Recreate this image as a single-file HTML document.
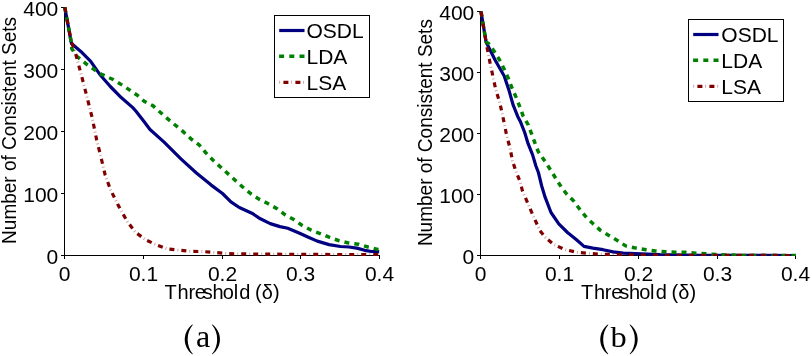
<!DOCTYPE html>
<html><head><meta charset="utf-8"><style>
html,body{margin:0;padding:0;background:#fff;width:812px;height:356px;overflow:hidden}
svg{display:block;will-change:transform}
.t{font-family:"Liberation Sans",sans-serif;font-size:20px;fill:#000}
.s{font-family:"Liberation Serif",serif;font-size:32px;fill:#000}
</style></head><body>
<svg width="812" height="356" viewBox="0 0 812 356">
<clipPath id="c0"><rect x="61.5" y="0" width="323.0" height="256.0"/></clipPath>
<path d="M64.5,7.5 V255.5 H380.0" fill="none" stroke="#000" stroke-width="1"/>
<path d="M61.0,255.5 H65.0" stroke="#000" stroke-width="1"/>
<text x="58.3" y="263.5" text-anchor="end" class="t" style="font-size:21px">0</text>
<path d="M61.0,193.5 H65.0" stroke="#000" stroke-width="1"/>
<text x="58.3" y="201.5" text-anchor="end" class="t" style="font-size:21px">100</text>
<path d="M61.0,131.5 H65.0" stroke="#000" stroke-width="1"/>
<text x="58.3" y="139.5" text-anchor="end" class="t" style="font-size:21px">200</text>
<path d="M61.0,69.5 H65.0" stroke="#000" stroke-width="1"/>
<text x="58.3" y="77.5" text-anchor="end" class="t" style="font-size:21px">300</text>
<path d="M61.0,7.5 H65.0" stroke="#000" stroke-width="1"/>
<text x="58.3" y="15.5" text-anchor="end" class="t" style="font-size:21px">400</text>
<path d="M64.5,255.5 V259.0" stroke="#000" stroke-width="1"/>
<text x="64.5" y="280.6" text-anchor="middle" class="t" style="font-size:21px">0</text>
<path d="M143.5,255.5 V259.0" stroke="#000" stroke-width="1"/>
<text x="143.5" y="280.6" text-anchor="middle" class="t" style="font-size:21px">0.1</text>
<path d="M222.5,255.5 V259.0" stroke="#000" stroke-width="1"/>
<text x="222.5" y="280.6" text-anchor="middle" class="t" style="font-size:21px">0.2</text>
<path d="M300.5,255.5 V259.0" stroke="#000" stroke-width="1"/>
<text x="300.5" y="280.6" text-anchor="middle" class="t" style="font-size:21px">0.3</text>
<path d="M379.5,255.5 V259.0" stroke="#000" stroke-width="1"/>
<text x="379.5" y="280.6" text-anchor="middle" class="t" style="font-size:21px">0.4</text>
<g clip-path="url(#c0)" fill="none" stroke-linejoin="round">
<polyline points="64.8,7.4 71.5,43.6 80.8,51.4 90.7,61.3 100.5,75.3 110.3,86.5 121.5,97.8 132.8,107.6 136.0,111.2 144.0,121.6 150.0,129.5 164.1,142.1 180.9,158.9 196.4,173.0 211.2,185.1 222.5,193.5 230.9,201.9 239.3,207.5 251.9,213.2 260.4,218.8 270.2,223.6 280.0,226.6 287.8,228.3 299.6,233.2 308.4,237.2 317.3,241.1 329.1,244.6 340.5,246.5 349.0,247.0 356.9,248.1 364.7,250.3 371.5,251.5 379.2,251.7" stroke="#000080" stroke-width="3.2"/>
<polyline points="64.8,7.4 71.5,43.6 71.8,48.7 76.9,56.3 86.5,64.1 100.5,73.9 113.1,79.5 124.4,86.5 137.0,95.0 144.4,101.4 152.8,105.6 166.9,118.2 182.3,130.9 191.3,139.1 199.2,144.9 205.6,152.5 213.2,160.4 228.1,173.9 242.1,186.5 250.5,193.5 258.9,199.1 267.4,203.3 277.0,208.7 284.8,214.6 293.7,219.5 301.6,225.0 311.4,230.3 320.2,233.6 329.1,237.2 338.9,240.7 348.5,243.0 358.5,244.2 368.1,247.0 377.6,249.4 379.2,249.6" stroke="#008000" stroke-width="3.5" stroke-dasharray="5 5"/>
<polyline points="64.8,7.4 71.5,42.5 74.3,49.0 77.7,61.3 83.6,83.7 87.9,100.6 92.1,117.4 96.6,139.6 100.8,156.5 105.1,174.7 110.7,190.2 117.7,204.2 121.7,211.8 127.6,221.9 135.2,232.0 145.3,239.6 156.2,244.7 167.2,248.9 179.0,250.2 191.6,251.4 203.4,251.6 216.1,252.6 227.9,253.6 238.0,253.9 300.0,254.4 379.2,254.6" stroke="#800000" stroke-width="3.2" stroke-dasharray="5 7"/>
<polyline points="64.8,7.4 71.5,42.5 74.3,49.0 77.7,61.3 83.6,83.7 87.9,100.6 92.1,117.4 96.6,139.6 100.8,156.5 105.1,174.7 110.7,190.2 117.7,204.2 121.7,211.8 127.6,221.9 135.2,232.0 145.3,239.6 156.2,244.7 167.2,248.9 179.0,250.2 191.6,251.4 203.4,251.6 216.1,252.6 227.9,253.6 238.0,253.9 300.0,254.4 379.2,254.6" stroke="#800000" stroke-width="3" stroke-opacity="0.35" stroke-dasharray="1 11" stroke-dashoffset="-8"/>
</g>
<rect x="274.5" y="15.5" width="95" height="82" fill="#fff" stroke="#000" stroke-width="1"/>
<path d="M279.2,30.5 H304.5" stroke="#000080" stroke-width="3.2"/>
<path d="M279.1,56.2 H304.5" stroke="#008000" stroke-width="3.5" stroke-dasharray="5 5.2"/>
<path d="M283.4,82.3 H304.5" stroke="#800000" stroke-width="3.2" stroke-dasharray="5 7"/>
<path d="M279.1,82.3 H304.5" stroke="#800000" stroke-width="3" stroke-opacity="0.35" stroke-dasharray="1 11" stroke-dashoffset="0"/>
<text x="306.5" y="38.0" class="t" style="font-size:21px">OSDL</text>
<text x="306.5" y="64.0" class="t" style="font-size:21px">LDA</text>
<text x="306.5" y="90.0" class="t" style="font-size:21px">LSA</text>
<text x="164.50 177.60 188.40 194.75 202.85 212.60 222.76 233.70 239.26 250.40 255.06 261.86 272.98" y="298.6" class="t">Threshold (δ)</text>
<text transform="translate(15.6,130.4) rotate(-90)" x="0" y="0" text-anchor="middle" class="t" textLength="227" lengthAdjust="spacingAndGlyphs">Number of Consistent Sets</text>
<clipPath id="c416"><rect x="477.5" y="0" width="323.0" height="256.0"/></clipPath>
<path d="M480.5,11.5 V255.5 H796.0" fill="none" stroke="#000" stroke-width="1"/>
<path d="M477.0,255.5 H481.0" stroke="#000" stroke-width="1"/>
<text x="474.3" y="263.5" text-anchor="end" class="t" style="font-size:21px">0</text>
<path d="M477.0,194.5 H481.0" stroke="#000" stroke-width="1"/>
<text x="474.3" y="202.5" text-anchor="end" class="t" style="font-size:21px">100</text>
<path d="M477.0,133.5 H481.0" stroke="#000" stroke-width="1"/>
<text x="474.3" y="141.5" text-anchor="end" class="t" style="font-size:21px">200</text>
<path d="M477.0,72.5 H481.0" stroke="#000" stroke-width="1"/>
<text x="474.3" y="80.5" text-anchor="end" class="t" style="font-size:21px">300</text>
<path d="M477.0,11.5 H481.0" stroke="#000" stroke-width="1"/>
<text x="474.3" y="19.5" text-anchor="end" class="t" style="font-size:21px">400</text>
<path d="M480.5,255.5 V259.0" stroke="#000" stroke-width="1"/>
<text x="480.5" y="280.6" text-anchor="middle" class="t" style="font-size:21px">0</text>
<path d="M559.5,255.5 V259.0" stroke="#000" stroke-width="1"/>
<text x="559.5" y="280.6" text-anchor="middle" class="t" style="font-size:21px">0.1</text>
<path d="M638.5,255.5 V259.0" stroke="#000" stroke-width="1"/>
<text x="638.5" y="280.6" text-anchor="middle" class="t" style="font-size:21px">0.2</text>
<path d="M717.5,255.5 V259.0" stroke="#000" stroke-width="1"/>
<text x="717.5" y="280.6" text-anchor="middle" class="t" style="font-size:21px">0.3</text>
<path d="M795.5,255.5 V259.0" stroke="#000" stroke-width="1"/>
<text x="795.5" y="280.6" text-anchor="middle" class="t" style="font-size:21px">0.4</text>
<g clip-path="url(#c416)" fill="none" stroke-linejoin="round">
<polyline points="481.0,11.6 486.1,42.0 495.2,60.2 504.2,76.0 508.7,89.4 513.2,105.2 517.7,116.4 520.2,121.2 524.7,132.5 528.1,143.7 532.6,154.9 536.0,166.2 538.4,172.5 541.7,186.0 545.1,197.2 551.0,212.5 558.8,223.8 567.5,232.5 576.2,239.5 584.0,246.4 592.9,248.1 603.0,249.7 613.1,251.9 623.2,253.1 635.0,253.6 660.0,254.6 700.0,255.3 796.0,255.5" stroke="#000080" stroke-width="3.2"/>
<polyline points="481.0,11.6 486.1,42.0 488.5,43.4 494.1,51.2 499.7,60.2 504.2,69.2 508.7,79.3 512.1,88.3 516.6,98.4 520.0,107.4 523.3,116.4 528.1,124.6 531.5,133.6 534.8,142.6 538.2,151.6 545.1,161.5 550.7,170.2 556.3,179.2 562.0,188.2 566.6,194.0 574.2,201.6 580.6,210.5 586.5,217.5 592.9,223.6 600.5,230.4 608.9,235.4 617.3,240.5 625.7,245.9 635.9,248.1 646.0,249.7 655.3,250.9 665.9,251.8 675.8,252.3 685.6,252.3 696.0,253.2 705.8,253.7 716.2,254.6 740.0,255.4 796.0,255.5" stroke="#008000" stroke-width="3.5" stroke-dasharray="5 5"/>
<polyline points="481.0,11.6 486.1,42.0 487.8,51.5 490.3,64.2 495.6,88.9 499.8,102.9 502.2,113.4 504.5,124.6 506.7,135.8 510.1,148.2 512.4,160.6 515.7,170.7 520.2,181.9 522.3,190.3 528.7,205.4 533.9,217.4 540.0,230.8 545.1,237.1 554.0,244.7 565.4,249.7 576.8,252.3 589.4,253.5 603.0,254.3 650.0,255.2 796.0,255.5" stroke="#800000" stroke-width="3.2" stroke-dasharray="5 7"/>
<polyline points="481.0,11.6 486.1,42.0 487.8,51.5 490.3,64.2 495.6,88.9 499.8,102.9 502.2,113.4 504.5,124.6 506.7,135.8 510.1,148.2 512.4,160.6 515.7,170.7 520.2,181.9 522.3,190.3 528.7,205.4 533.9,217.4 540.0,230.8 545.1,237.1 554.0,244.7 565.4,249.7 576.8,252.3 589.4,253.5 603.0,254.3 650.0,255.2 796.0,255.5" stroke="#800000" stroke-width="3" stroke-opacity="0.35" stroke-dasharray="1 11" stroke-dashoffset="-8"/>
</g>
<rect x="688.5" y="19.5" width="95" height="82" fill="#fff" stroke="#000" stroke-width="1"/>
<path d="M693.2,34.5 H718.5" stroke="#000080" stroke-width="3.2"/>
<path d="M693.1,60.2 H718.5" stroke="#008000" stroke-width="3.5" stroke-dasharray="5 5.2"/>
<path d="M697.4,86.3 H718.5" stroke="#800000" stroke-width="3.2" stroke-dasharray="5 7"/>
<path d="M693.1,86.3 H718.5" stroke="#800000" stroke-width="3" stroke-opacity="0.35" stroke-dasharray="1 11" stroke-dashoffset="0"/>
<text x="721.3" y="42.0" class="t" style="font-size:21px">OSDL</text>
<text x="721.3" y="68.0" class="t" style="font-size:21px">LDA</text>
<text x="721.3" y="94.0" class="t" style="font-size:21px">LSA</text>
<text x="580.90 594.00 604.80 611.15 619.25 629.00 639.16 650.10 655.66 666.80 671.46 678.26 689.38" y="298.6" class="t">Threshold (δ)</text>
<text transform="translate(431.6,132.6) rotate(-90)" x="0" y="0" text-anchor="middle" class="t" textLength="227" lengthAdjust="spacingAndGlyphs">Number of Consistent Sets</text>
<path d="M192.30,324.4 C182.30,332.4 182.30,346.3 192.30,354.3 L192.90,354.0 C185.90,346.3 185.90,332.4 192.90,324.7 Z M212.50,324.4 C222.50,332.4 222.50,346.3 212.50,354.3 L211.90,354.0 C218.90,346.3 218.90,332.4 211.90,324.7 Z" fill="#000"/>
<text x="203" y="347.4" text-anchor="middle" class="s">a</text>
<path d="M607.80,324.4 C597.80,332.4 597.80,346.3 607.80,354.3 L608.40,354.0 C601.40,346.3 601.40,332.4 608.40,324.7 Z M630.20,324.4 C640.20,332.4 640.20,346.3 630.20,354.3 L629.60,354.0 C636.60,346.3 636.60,332.4 629.60,324.7 Z" fill="#000"/>
<text transform="translate(618.7,347.4) scale(1.08,1)" x="0" y="0" text-anchor="middle" class="s" style="font-size:30px">b</text>
</svg>
</body></html>
